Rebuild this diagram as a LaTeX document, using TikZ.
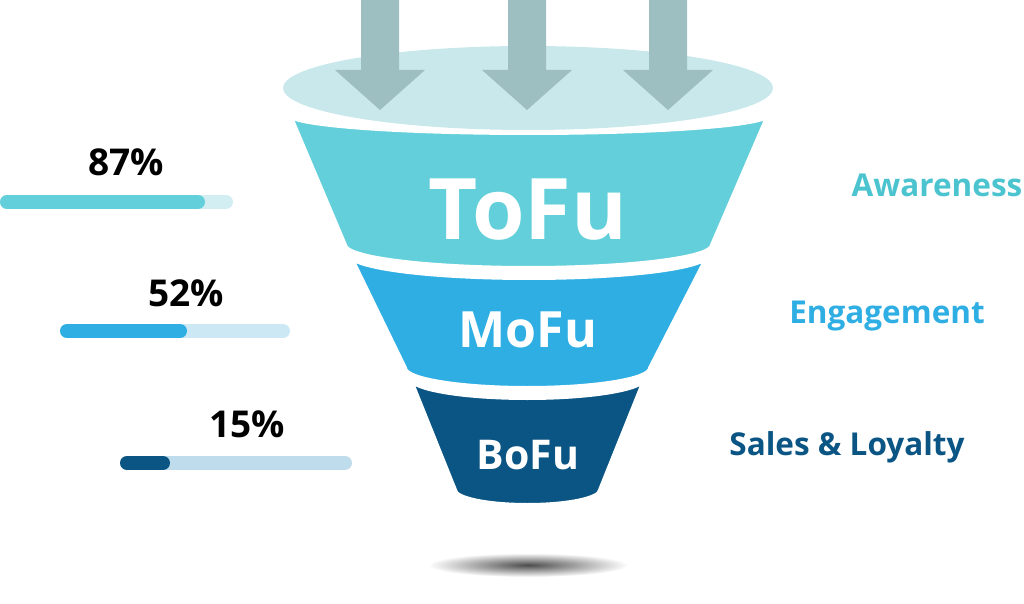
\documentclass[tikz,border=0pt]{standalone}
\usepackage{fontspec}
\setmainfont{Open Sans}
\definecolor{tofu}{HTML}{62CFDA}
\definecolor{tofuT}{HTML}{4CC4D0}
\definecolor{mofu}{HTML}{2EAEE3}
\definecolor{bofu}{HTML}{0A5584}
\definecolor{rim}{HTML}{C8E8EC}
\definecolor{arr}{HTML}{9DBFC2}
\definecolor{tofuL}{HTML}{D3EEF2}
\definecolor{mofuL}{HTML}{CDE8F5}
\definecolor{bofuL}{HTML}{BFDCEC}
\begin{document}
\begin{tikzpicture}[x=1pt,y=1pt,
  band/.style={draw=white,line width=4pt,line join=round},
  pct/.style={font=\bfseries\fontsize{37}{40}\selectfont,text=black},
  lbl/.style={font=\bfseries\fontsize{31.5}{34}\selectfont},
  bar/.style={line width=14pt,line cap=round}]
\useasboundingbox (0,0) rectangle (1024,603);
% shadow
\shade[inner color=black!70,outer color=white] (528,38) ellipse (100 and 12);
% rim
\fill[rim] (528,515) ellipse (245 and 42);
% arrows
\foreach \x/\n in {380/a1,527/a2,668/a3}{
  \fill[arr] (\x-19,603) -- (\x-19,533) -- (\x-45,533) -- (\x,493) -- (\x+45,533) -- (\x+19,533) -- (\x+19,603) -- cycle;
}
% bands
\path[band,fill=tofu] (290,488) arc[start angle=180,end angle=360,x radius=239,y radius=18] -- (712,358) arc[start angle=360,end angle=180,x radius=183.5,y radius=23] -- cycle;
\path[band,fill=mofu] (350,348) arc[start angle=180,end angle=360,x radius=179,y radius=23] -- (650,235) arc[start angle=360,end angle=180,x radius=122.5,y radius=20] -- cycle;
\path[band,fill=bofu] (410,225) arc[start angle=180,end angle=360,x radius=117.5,y radius=20] -- (600,113) arc[start angle=360,end angle=180,x radius=72.5,y radius=15] -- cycle;
% funnel texts
\node[text=white,font=\bfseries\fontsize{85}{92}\selectfont] (tofu) at (528,393) {ToFu};
\node[text=white,font=\bfseries\fontsize{50}{56}\selectfont] (mofu) at (528,273) {MoFu};
\node[text=white,font=\bfseries\fontsize{41}{46}\selectfont] (bofu) at (528,148) {BoFu};
% right labels
\node[lbl,text=tofuT] (aw) at (937,418) {Awareness};
\node[lbl,text=mofu] (en) at (887,287) {Engagement};
\node[lbl,text=bofu] (sl) at (847,156) {Sales \& Loyalty};
% bars
\draw[bar,tofuL] (7,401) -- (226,401);
\draw[bar,tofu] (7,401) -- (198,401);
\node[pct] (p1) at (126,441) {87\%};
\draw[bar,mofuL] (67,272) -- (283,272);
\draw[bar,mofu] (67,272) -- (180,272);
\node[pct] (p2) at (186,310) {52\%};
\draw[bar,bofuL] (127,140) -- (345,140);
\draw[bar,bofu] (127,140) -- (163,140);
\node[pct] (p3) at (247,179) {15\%};
\end{tikzpicture}
\end{document}
